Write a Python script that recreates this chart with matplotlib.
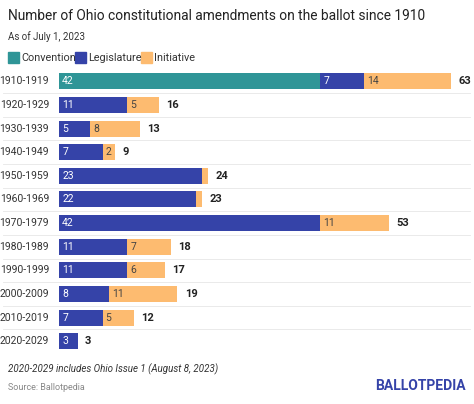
import matplotlib
matplotlib.use("Agg")
import matplotlib.pyplot as plt

decades = ["1910-1919","1920-1929","1930-1939","1940-1949","1950-1959","1960-1969",
           "1970-1979","1980-1989","1990-1999","2000-2009","2010-2019","2020-2029"]
convention = [42,0,0,0,0,0,0,0,0,0,0,0]
legislature = [7,11,5,7,23,22,42,11,11,8,7,3]
initiative = [14,5,8,2,1,1,11,7,6,11,5,0]

plt.rcParams['font.family'] = ['Roboto', 'DejaVu Sans']
W, H = 474, 404
fig = plt.figure(figsize=(W/100, H/100), dpi=100)
fig.patch.set_facecolor('white')
x0, x1 = 59, 451
ytop, ybot = 69.5, 353
ax = fig.add_axes([x0/W, 1-ybot/H, (x1-x0)/W, (ybot-ytop)/H])
ax.set_xlim(0, 63)
ax.set_ylim(len(decades)-0.5, -0.5)
ax.axis('off')

cols = ['#2f9597', '#3543a8', '#fdbb70']
series = [convention, legislature, initiative]
txtcol = ['white', 'white', '#444444']
for i in range(len(decades)):
    left = 0
    for s, c, tc in zip(series, cols, txtcol):
        v = s[i]
        if v > 0:
            ax.barh(i, v, left=left, height=0.68, color=c, edgecolor='none')
            if v >= 2:
                ax.text(left+0.5, i, str(v), color=tc, va='center', ha='left', fontsize=7.5)
        left += v
    ax.text(left+1.2, i, str(left), va='center', ha='left', fontsize=8, fontweight='bold', color='#222222')
    ax.text(-1.6, i, decades[i], va='center', ha='right', fontsize=7.5, color='#333333')
    if i < len(decades)-1:
        ax.plot([-9, 66], [i+0.5, i+0.5], color='#e6e6e6', lw=0.6, clip_on=False, zorder=0)

fig.text(8/W, 1-16/H, "Number of Ohio constitutional amendments on the ballot since 1910",
         fontsize=9.9, color='#222222', va='center')
fig.text(8/W, 1-37/H, "As of July 1, 2023", fontsize=7, color='#333333', va='center')
lx = 8
for lab, c in zip(["Convention", "Legislature", "Initiative"], cols):
    fig.patches.append(plt.Rectangle((lx/W, 1-63/H), 11/W, 11/H, color=c, transform=fig.transFigure))
    t = fig.text((lx+13)/W, 1-58/H, lab, fontsize=7.8, color='#333333', va='center')
    lx += {"Convention": 67, "Legislature": 66, "Initiative": 60}[lab]
fig.text(8/W, 1-369/H, "2020-2029 includes Ohio Issue 1 (August 8, 2023)", fontsize=7,
         style='italic', color='#333333', va='center')
fig.text(8/W, 1-387/H, "Source: Ballotpedia", fontsize=6.5, color='#888888', va='center')
fig.text(466/W, 1-386/H, "BALLOTPEDIA", fontsize=10, fontweight='bold', color='#3543a8',
         ha='right', va='center')
fig.savefig("out.png", dpi=100)
